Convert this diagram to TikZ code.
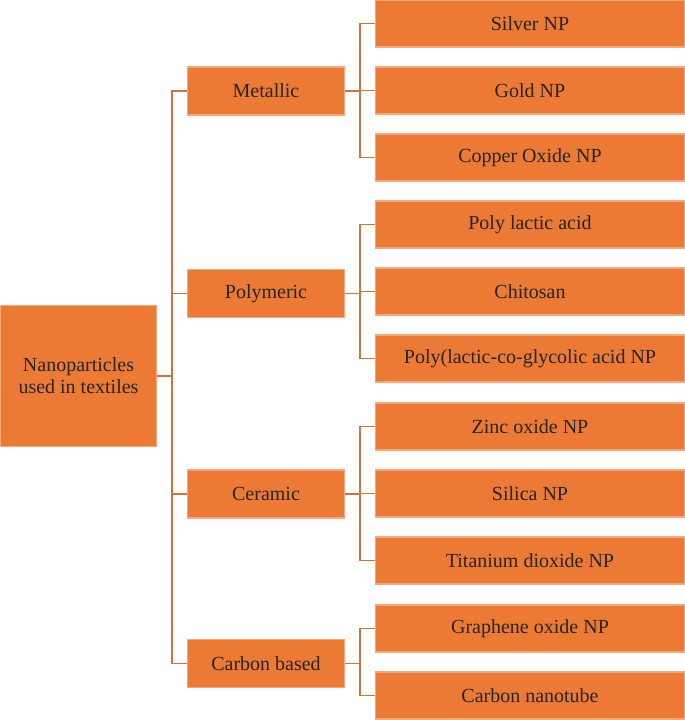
\documentclass[tikz,border=0pt]{standalone}
\usepackage{fontspec}
\setmainfont{Liberation Serif}
\definecolor{boxfill}{HTML}{EC7A35}
\definecolor{boxedge}{HTML}{F4A77A}
\definecolor{linkcol}{HTML}{D2743A}
\begin{document}
\begin{tikzpicture}[x=1pt,y=-1pt]
\tikzstyle{box}=[draw=boxedge, line width=1.2pt, fill=boxfill, rectangle, inner sep=0pt, text=black!85, font=\fontsize{20}{22}\selectfont, align=center]
\tikzstyle{group}=[box, minimum width=157pt, minimum height=48pt]
\tikzstyle{leaf}=[box, minimum width=309pt, minimum height=47pt]
\tikzstyle{link}=[draw=linkcol, line width=1.8pt]
\useasboundingbox (0,0) rectangle (685,720);

% Root
\node[box, minimum width=156pt, minimum height=141pt] (root) at (78.5,376) {Nanoparticles\\used in textiles};

% Groups
\node[group] (metal) at (266,91) {Metallic};
\node[group] (poly) at (266,293.5) {Polymeric};
\node[group] (cera) at (266,494) {Ceramic};
\node[group] (carb) at (266,663.5) {Carbon based};

% Leaves
\node[leaf] (silver) at (530,23.5) {Silver NP};
\node[leaf] (gold) at (530,90.5) {Gold NP};
\node[leaf] (copper) at (530,157.5) {Copper Oxide NP};
\node[leaf] (pla) at (530,224.5) {Poly lactic acid};
\node[leaf] (chito) at (530,291.5) {Chitosan};
\node[leaf] (plga) at (530,358.5) {Poly(lactic-co-glycolic acid NP};
\node[leaf] (zinc) at (530,426.5) {Zinc oxide NP};
\node[leaf] (silica) at (530,493.5) {Silica NP};
\node[leaf] (titan) at (530,560.5) {Titanium dioxide NP};
\node[leaf] (graph) at (530,628.5) {Graphene oxide NP};
\node[leaf] (tube) at (530,695.5) {Carbon nanotube};

% Connectors
\foreach \g in {metal,poly,cera,carb}
  \draw[link] (root.east) -- ++(15,0) |- (\g.west);
\foreach \l in {silver,gold,copper}
  \draw[link] (metal.east) -- ++(15,0) |- (\l.west);
\foreach \l in {pla,chito,plga}
  \draw[link] (poly.east) -- ++(15,0) |- (\l.west);
\foreach \l in {zinc,silica,titan}
  \draw[link] (cera.east) -- ++(15,0) |- (\l.west);
\foreach \l in {graph,tube}
  \draw[link] (carb.east) -- ++(15,0) |- (\l.west);
\end{tikzpicture}
\end{document}
